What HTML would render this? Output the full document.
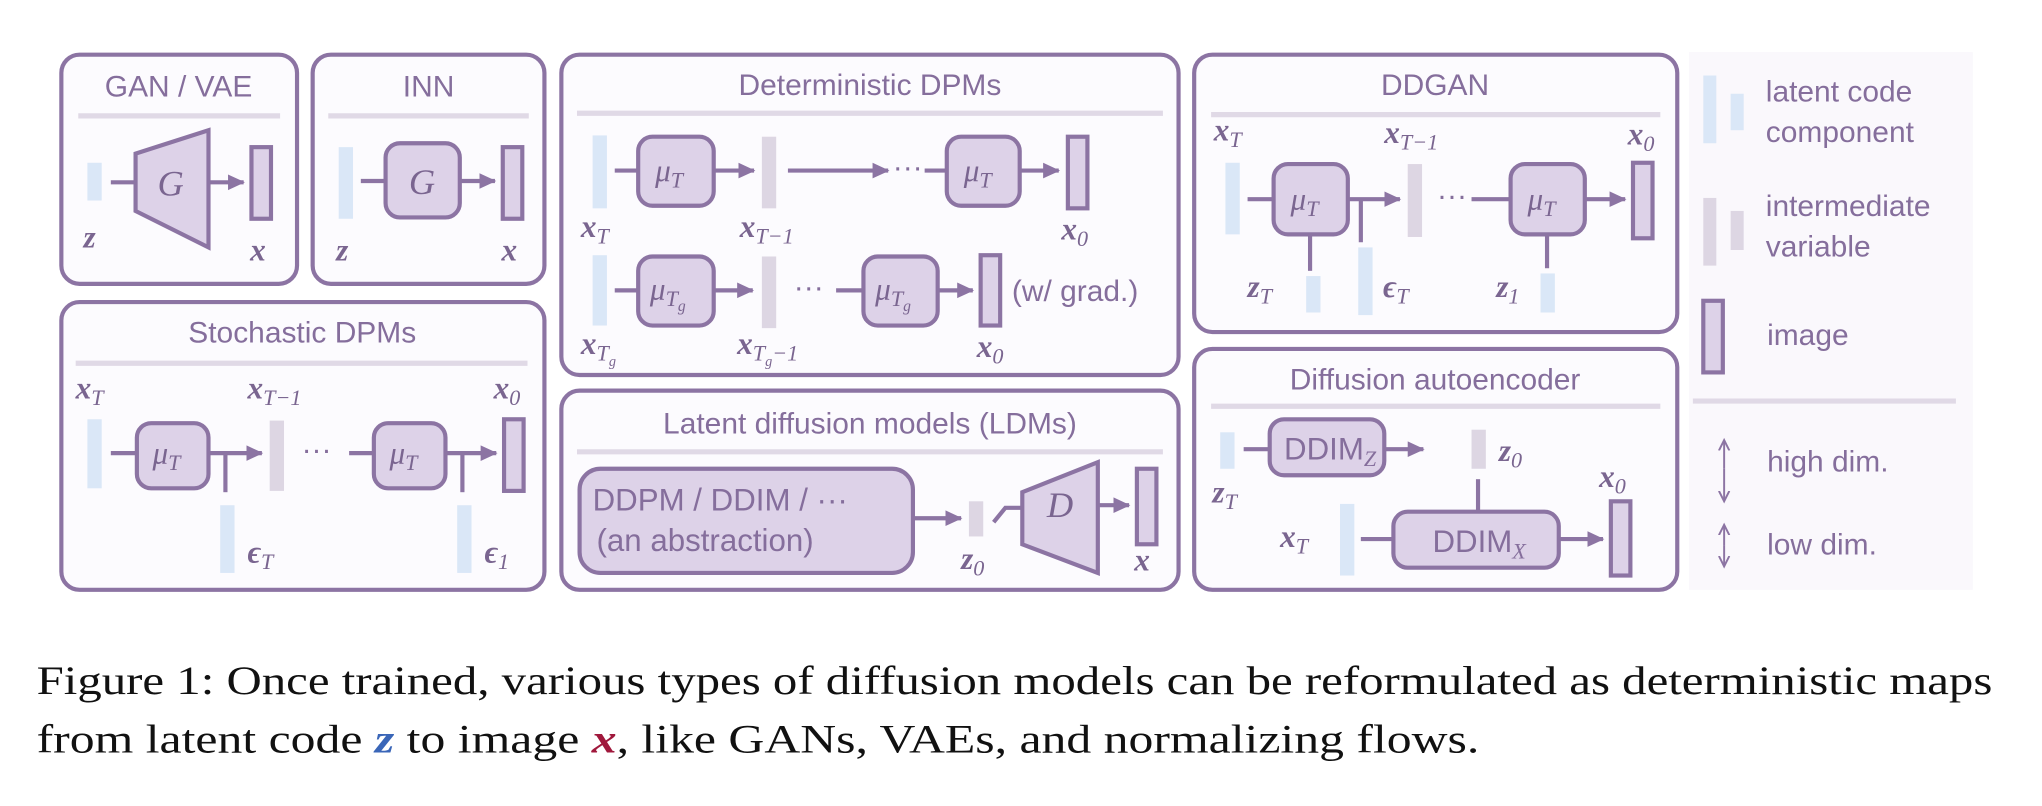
<!DOCTYPE html>
<html><head><meta charset="utf-8"><style>
html,body{margin:0;padding:0;background:#fff;}
svg{display:block;}
.t{font-family:"Liberation Sans",sans-serif;fill:#856e9c;font-size:23px;}
.m{font-family:"Liberation Serif",serif;font-style:italic;font-weight:bold;fill:#7a6590;font-size:24px;}
.s{font-weight:normal;font-size:17px;}
.f{font-family:"Liberation Serif",serif;font-style:italic;fill:#7a6590;font-size:28px;}
.c{font-family:"Liberation Serif",serif;fill:#111;font-size:31px;}
</style></head><body>
<svg width="2042" height="806" viewBox="0 0 1568 619" xmlns="http://www.w3.org/2000/svg">
<defs>
<marker id="a" markerUnits="userSpaceOnUse" markerWidth="14" markerHeight="14" refX="12" refY="7" orient="auto"><path d="M0,1 L13,7 L0,13 z" fill="#8c74a3"/></marker>
<marker id="h" markerUnits="userSpaceOnUse" markerWidth="10" markerHeight="10" refX="8" refY="5" orient="auto"><path d="M0,1 L8,5 L0,9" fill="none" stroke="#8c74a3" stroke-width="1.5"/></marker>
</defs>
<g stroke="#8c74a3" stroke-width="3.2" fill="#fcfbfe">
<rect x="47" y="42" width="181" height="176" rx="14"/>
<rect x="240" y="42" width="178" height="176" rx="14"/>
<rect x="431" y="42" width="474" height="246" rx="14"/>
<rect x="47" y="232" width="371" height="221" rx="14"/>
<rect x="431" y="300" width="474" height="153" rx="14"/>
<rect x="917" y="42" width="371" height="213" rx="14"/>
<rect x="917" y="268" width="371" height="185" rx="14"/>
</g>
<rect x="1297" y="40" width="218" height="413" fill="#faf8fc"/>
<g stroke="#e0d9e6" stroke-width="4">
<line x1="60" y1="89" x2="215" y2="89"/><line x1="252" y1="89" x2="406" y2="89"/>
<line x1="443" y1="87" x2="893" y2="87"/><line x1="58" y1="279" x2="405" y2="279"/>
<line x1="443" y1="347" x2="893" y2="347"/><line x1="930" y1="88" x2="1275" y2="88"/>
<line x1="930" y1="312" x2="1275" y2="312"/><line x1="1300" y1="308" x2="1502" y2="308"/>
</g>
<g text-anchor="middle">
<text class="t" x="137" y="74">GAN / VAE</text>
<text class="t" x="329" y="74">INN</text>
<text class="t" x="668" y="73">Deterministic DPMs</text>
<text class="t" x="232" y="263">Stochastic DPMs</text>
<text class="t" x="668" y="333">Latent diffusion models (LDMs)</text>
<text class="t" x="1102" y="73">DDGAN</text>
<text class="t" x="1102" y="299">Diffusion autoencoder</text>
</g>
<g fill="#dae7f7">
<rect x="67" y="125" width="11" height="29"/><rect x="260" y="113" width="11" height="55"/>
<rect x="455" y="104" width="11" height="56"/><rect x="455" y="196" width="11" height="54"/>
<rect x="67" y="322" width="11" height="53"/><rect x="169" y="388" width="11" height="52"/><rect x="351" y="388" width="11" height="52"/>
<rect x="941" y="125" width="11" height="55"/><rect x="1003" y="212" width="11" height="28"/><rect x="1043" y="190" width="11" height="52"/><rect x="1183" y="210" width="11" height="30"/>
<rect x="937" y="332" width="11" height="28"/><rect x="1029" y="387" width="11" height="55"/>
<rect x="1308" y="58" width="10" height="52"/><rect x="1329" y="72" width="10" height="28"/>
</g>
<g fill="#ddd6e3">
<rect x="585" y="105" width="11" height="55"/><rect x="585" y="197" width="11" height="55"/>
<rect x="207" y="323" width="11" height="54"/><rect x="744" y="385" width="11" height="27"/>
<rect x="1081" y="126" width="11" height="56"/><rect x="1130" y="330" width="11" height="30"/>
<rect x="1308" y="152" width="10" height="52"/><rect x="1329" y="162" width="10" height="30"/>
</g>
<g stroke="#8c74a3" stroke-width="3.2" fill="#ddd2e8">
<polygon points="104,118 160,100 160,190 104,162"/>
<rect x="193" y="113" width="15" height="55"/>
<rect x="296" y="110" width="57" height="57" rx="11"/><rect x="386" y="113" width="15" height="55"/>
<rect x="490" y="105" width="58" height="53" rx="11"/><rect x="727" y="105" width="56" height="53" rx="11"/><rect x="820" y="105" width="15" height="55"/>
<rect x="490" y="197" width="58" height="53" rx="11"/><rect x="663" y="197" width="57" height="53" rx="11"/><rect x="753" y="196" width="15" height="54"/>
<rect x="105" y="325" width="55" height="50" rx="11"/><rect x="287" y="325" width="55" height="50" rx="11"/><rect x="387" y="322" width="15" height="55"/>
<rect x="445" y="360" width="256" height="80" rx="16"/>
<polygon points="785,378 843,355 843,440 785,418"/><rect x="873" y="360" width="15" height="58"/>
<rect x="978" y="126" width="57" height="54" rx="11"/><rect x="1160" y="126" width="57" height="54" rx="11"/><rect x="1254" y="125" width="15" height="58"/>
<rect x="975" y="322" width="88" height="43" rx="11"/><rect x="1070" y="393" width="127" height="43" rx="11"/><rect x="1237" y="385" width="15" height="57"/>
<rect x="1308" y="231" width="15" height="55"/>
</g>
<g stroke="#8c74a3" stroke-width="3.2" fill="none">
<line x1="85" y1="140" x2="104" y2="140"/><line x1="160" y1="140" x2="187" y2="140" marker-end="url(#a)"/>
<line x1="277" y1="139" x2="296" y2="139"/><line x1="353" y1="139" x2="380" y2="139" marker-end="url(#a)"/>
<line x1="472" y1="131" x2="490" y2="131"/><line x1="548" y1="131" x2="579" y2="131" marker-end="url(#a)"/>
<line x1="605" y1="131" x2="682" y2="131" marker-end="url(#a)"/><line x1="710" y1="131" x2="727" y2="131"/><line x1="783" y1="131" x2="813" y2="131" marker-end="url(#a)"/>
<line x1="472" y1="223" x2="490" y2="223"/><line x1="548" y1="223" x2="578" y2="223" marker-end="url(#a)"/>
<line x1="642" y1="223" x2="663" y2="223"/><line x1="720" y1="223" x2="747" y2="223" marker-end="url(#a)"/>
<line x1="85" y1="348" x2="105" y2="348"/><line x1="160" y1="348" x2="201" y2="348" marker-end="url(#a)"/><line x1="173" y1="348" x2="173" y2="378"/>
<line x1="268" y1="348" x2="287" y2="348"/><line x1="342" y1="348" x2="381" y2="348" marker-end="url(#a)"/><line x1="355" y1="348" x2="355" y2="378"/>
<line x1="701" y1="398" x2="738" y2="398" marker-end="url(#a)"/>
<polyline points="763,401 772,390 785,390"/><line x1="843" y1="388" x2="867" y2="388" marker-end="url(#a)"/>
<line x1="958" y1="153" x2="978" y2="153"/><line x1="1035" y1="153" x2="1075" y2="153" marker-end="url(#a)"/><line x1="1045" y1="153" x2="1045" y2="186"/>
<line x1="1006" y1="180" x2="1006" y2="208"/>
<line x1="1130" y1="153" x2="1160" y2="153"/><line x1="1217" y1="153" x2="1248" y2="153" marker-end="url(#a)"/><line x1="1188" y1="180" x2="1188" y2="206"/>
<line x1="955" y1="345" x2="975" y2="345"/><line x1="1063" y1="345" x2="1093" y2="345" marker-end="url(#a)"/>
<line x1="1135" y1="368" x2="1135" y2="393"/>
<line x1="1045" y1="414" x2="1070" y2="414"/><line x1="1197" y1="414" x2="1231" y2="414" marker-end="url(#a)"/>
</g>
<g stroke="#8c74a3" stroke-width="1.5" fill="none">
<line x1="1324" y1="360" x2="1324" y2="338" marker-end="url(#h)"/><line x1="1324" y1="360" x2="1324" y2="385" marker-end="url(#h)"/>
<line x1="1324" y1="419" x2="1324" y2="403" marker-end="url(#h)"/><line x1="1324" y1="419" x2="1324" y2="435" marker-end="url(#h)"/>
</g>
<g class="t" text-anchor="middle">
<text x="697" y="136">···</text><text x="621" y="228">···</text><text x="243" y="353">···</text><text x="1115" y="158">···</text>
</g>
<g class="f" text-anchor="middle">
<text x="131" y="150">G</text><text x="324" y="149">G</text><text x="814" y="397">D</text>
</g>
<g class="f" style="font-size:24px">
<text x="503" y="139">μ<tspan class="s" dy="5">T</tspan></text>
<text x="740" y="139">μ<tspan class="s" dy="5">T</tspan></text>
<text x="499" y="230">μ<tspan class="s" dy="5">T</tspan><tspan style="font-size:12px" dy="4">g</tspan></text>
<text x="672" y="230">μ<tspan class="s" dy="5">T</tspan><tspan style="font-size:12px" dy="4">g</tspan></text>
<text x="117" y="356">μ<tspan class="s" dy="5">T</tspan></text>
<text x="299" y="356">μ<tspan class="s" dy="5">T</tspan></text>
<text x="991" y="161">μ<tspan class="s" dy="5">T</tspan></text>
<text x="1173" y="161">μ<tspan class="s" dy="5">T</tspan></text>
</g>
<g class="t">
<text x="986" y="353" style="font-size:24px">DDIM<tspan style="font-family:'Liberation Serif',serif;font-style:italic;font-size:17px" dy="5">Z</tspan></text>
<text x="1100" y="424" style="font-size:24px">DDIM<tspan style="font-family:'Liberation Serif',serif;font-style:italic;font-size:17px" dy="5">X</tspan></text>
<text x="455" y="392" style="font-size:24px">DDPM / DDIM / ···</text>
<text x="458" y="423" style="font-size:24px">(an abstraction)</text>
<text x="777" y="231">(w/ grad.)</text>
<text x="1356" y="78">latent code</text><text x="1356" y="109">component</text>
<text x="1356" y="166">intermediate</text><text x="1356" y="197">variable</text>
<text x="1357" y="265">image</text>
<text x="1357" y="362">high dim.</text><text x="1357" y="426">low dim.</text>
</g>
<g class="m">
<text x="64" y="190">z</text><text x="192" y="200">x</text>
<text x="258" y="200">z</text><text x="385" y="200">x</text>
<text x="446" y="182">x<tspan class="s" dy="5">T</tspan></text>
<text x="568" y="182">x<tspan class="s" dy="5">T−1</tspan></text>
<text x="815" y="184">x<tspan class="s" dy="5">0</tspan></text>
<text x="446" y="272">x<tspan class="s" dy="5">T</tspan><tspan style="font-size:11px;font-weight:normal" dy="4">g</tspan></text>
<text x="566" y="272">x<tspan class="s" dy="5">T</tspan><tspan style="font-size:11px;font-weight:normal" dy="4">g</tspan><tspan class="s" dy="-4">−1</tspan></text>
<text x="750" y="274">x<tspan class="s" dy="5">0</tspan></text>
<text x="58" y="306">x<tspan class="s" dy="5">T</tspan></text>
<text x="190" y="306">x<tspan class="s" dy="5">T−1</tspan></text>
<text x="379" y="306">x<tspan class="s" dy="5">0</tspan></text>
<text x="190" y="432">ϵ<tspan class="s" dy="5">T</tspan></text>
<text x="372" y="432">ϵ<tspan class="s" dy="5">1</tspan></text>
<text x="738" y="437">z<tspan class="s" dy="5">0</tspan></text>
<text x="871" y="438">x</text>
<text x="932" y="108">x<tspan class="s" dy="5">T</tspan></text>
<text x="1063" y="110">x<tspan class="s" dy="5">T−1</tspan></text>
<text x="1250" y="111">x<tspan class="s" dy="5">0</tspan></text>
<text x="958" y="228">z<tspan class="s" dy="5">T</tspan></text>
<text x="1062" y="228">ϵ<tspan class="s" dy="5">T</tspan></text>
<text x="1149" y="228">z<tspan class="s" dy="5">1</tspan></text>
<text x="1151" y="354">z<tspan class="s" dy="5">0</tspan></text>
<text x="931" y="386">z<tspan class="s" dy="5">T</tspan></text>
<text x="983" y="420">x<tspan class="s" dy="5">T</tspan></text>
<text x="1228" y="374">x<tspan class="s" dy="5">0</tspan></text>
</g>
<text class="c" x="28" y="533" textLength="1502" lengthAdjust="spacingAndGlyphs">Figure 1:  Once trained, various types of diffusion models can be reformulated as deterministic maps</text>
<text class="c" x="28" y="578" textLength="1108" lengthAdjust="spacingAndGlyphs">from latent code <tspan fill="#3a66b8" font-style="italic" font-weight="bold">z</tspan> to image <tspan fill="#a0183c" font-style="italic" font-weight="bold">x</tspan>, like GANs, VAEs, and normalizing flows.</text>
</svg>
</body></html>
